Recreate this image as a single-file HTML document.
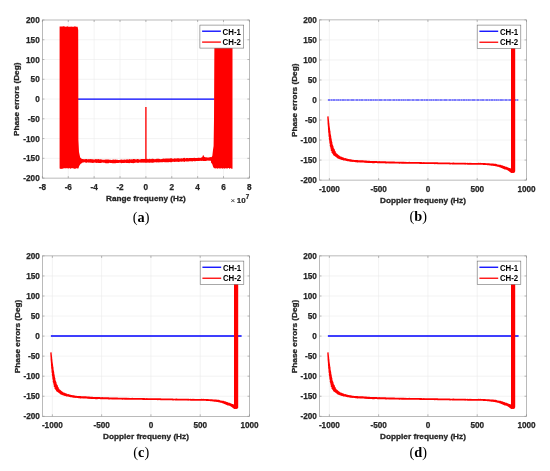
<!DOCTYPE html>
<html><head><meta charset="utf-8"><title>Phase errors</title>
<style>
html,body{margin:0;padding:0;background:#fff;}
body{width:550px;height:471px;overflow:hidden;}
svg{display:block;}
.t{font-family:"Liberation Sans",Arial,Helvetica,sans-serif;font-weight:bold;font-size:8.2px;fill:#262626;stroke:#262626;stroke-width:0.25px;}
.l{font-family:"Liberation Sans",Arial,Helvetica,sans-serif;font-weight:bold;font-size:7.8px;fill:#262626;stroke:#262626;stroke-width:0.3px;}
.g{font-family:"Liberation Sans",Arial,Helvetica,sans-serif;font-weight:bold;font-size:8.2px;fill:#000;}
.e{font-family:"Liberation Sans",Arial,Helvetica,sans-serif;font-size:8px;fill:#262626;}
.eb{font-weight:bold;stroke:#262626;stroke-width:0.2px;}
.c{font-family:"Liberation Serif","Times New Roman",serif;font-size:14.3px;fill:#000;}
</style></head><body>
<svg width="550" height="471" viewBox="0 0 550 471">
<rect width="550" height="471" fill="#fff"/>
<rect x="42.4" y="20" width="207" height="158.1" fill="#fff"/>
<line x1="68.28" y1="20" x2="68.28" y2="178.1" stroke="#ebebeb" stroke-width="0.6"/>
<line x1="94.15" y1="20" x2="94.15" y2="178.1" stroke="#ebebeb" stroke-width="0.6"/>
<line x1="120.03" y1="20" x2="120.03" y2="178.1" stroke="#ebebeb" stroke-width="0.6"/>
<line x1="145.9" y1="20" x2="145.9" y2="178.1" stroke="#ebebeb" stroke-width="0.6"/>
<line x1="171.78" y1="20" x2="171.78" y2="178.1" stroke="#ebebeb" stroke-width="0.6"/>
<line x1="197.65" y1="20" x2="197.65" y2="178.1" stroke="#ebebeb" stroke-width="0.6"/>
<line x1="223.53" y1="20" x2="223.53" y2="178.1" stroke="#ebebeb" stroke-width="0.6"/>
<line x1="42.4" y1="39.76" x2="249.4" y2="39.76" stroke="#ebebeb" stroke-width="0.6"/>
<line x1="42.4" y1="59.52" x2="249.4" y2="59.52" stroke="#ebebeb" stroke-width="0.6"/>
<line x1="42.4" y1="79.29" x2="249.4" y2="79.29" stroke="#ebebeb" stroke-width="0.6"/>
<line x1="42.4" y1="99.05" x2="249.4" y2="99.05" stroke="#ebebeb" stroke-width="0.6"/>
<line x1="42.4" y1="118.81" x2="249.4" y2="118.81" stroke="#ebebeb" stroke-width="0.6"/>
<line x1="42.4" y1="138.57" x2="249.4" y2="138.57" stroke="#ebebeb" stroke-width="0.6"/>
<line x1="42.4" y1="158.34" x2="249.4" y2="158.34" stroke="#ebebeb" stroke-width="0.6"/>
<line x1="78" y1="99.05" x2="214.5" y2="99.05" stroke="#0000ff" stroke-width="1.3"/>
<polygon fill="#ff0000" points="77,159.2 77.99,159.19 78.97,159.21 79.96,159.2 80.94,158.95 81.93,159.12 82.91,159.06 83.9,159.15 84.89,159.37 85.87,159.06 86.86,159.09 87.84,159.48 88.83,159.09 89.81,159.14 90.8,158.98 91.79,159.16 92.77,159.2 93.76,159.45 94.74,159.43 95.73,159.12 96.71,159.21 97.7,159.27 98.69,159.06 99.67,159.47 100.66,159.18 101.64,159.58 102.63,159.69 103.61,159.81 104.6,159.76 105.59,159.51 106.57,159.39 107.56,159.48 108.54,159.51 109.53,159.87 110.51,159.74 111.5,159.91 112.49,159.67 113.47,159.55 114.46,159.72 115.44,159.39 116.43,159.73 117.41,159.74 118.4,159.89 119.39,160.01 120.37,159.85 121.36,159.41 122.34,159.77 123.33,159.64 124.31,159.59 125.3,159.79 126.29,159.5 127.27,159.3 128.26,159.64 129.24,159.12 130.23,159.6 131.21,159.28 132.2,159.57 133.19,159.03 134.17,159.12 135.16,159.36 136.14,159.59 137.13,159.03 138.11,158.88 139.1,159.39 140.09,159.45 141.07,158.89 142.06,158.99 143.04,158.93 144.03,159.02 145.01,159.04 146,158.92 146.99,158.8 147.97,159.36 148.96,159.04 149.94,158.77 150.93,159.14 151.91,158.75 152.9,158.82 153.89,158.92 154.87,159.13 155.86,159.06 156.84,158.77 157.83,158.7 158.81,158.67 159.8,159 160.79,159.13 161.77,158.95 162.76,158.8 163.74,158.62 164.73,158.78 165.71,158.57 166.7,158.41 167.69,158.59 168.67,158.55 169.66,158.45 170.64,158.24 171.63,158.35 172.61,158.8 173.6,158.76 174.59,158.28 175.57,158.5 176.56,158.42 177.54,158.33 178.53,158.17 179.51,158.48 180.5,158.45 181.49,158.31 182.47,158.41 183.46,158.12 184.44,157.83 185.43,158.38 186.41,158.04 187.4,157.94 188.39,158.25 189.37,157.88 190.36,158.08 191.34,157.96 192.33,157.89 193.31,157.92 194.3,157.87 195.29,158.01 196.27,157.99 197.26,158.01 198.24,157.66 199.23,157.74 200.21,157.9 201.2,157.43 202.19,157.17 203.17,154.85 204.16,156.75 205.14,157.15 206.13,157.14 207.11,157.42 208.1,157.6 209.09,157.47 210.07,156.92 211.06,157.35 212.04,157.26 213.03,157.03 214.01,157.11 215,157.14 215,160.24 214.01,160.68 213.03,160.6 212.04,160.57 211.06,160.48 210.07,160.89 209.09,160.49 208.1,160.67 207.11,160.62 206.13,161.03 205.14,160.92 204.16,161.07 203.17,161.1 202.19,160.86 201.2,161.04 200.21,160.71 199.23,161.06 198.24,160.99 197.26,160.92 196.27,161 195.29,161.15 194.3,161.34 193.31,161.11 192.33,161.6 191.34,161.24 190.36,161.2 189.37,161.37 188.39,161.51 187.4,161.59 186.41,161.57 185.43,161.28 184.44,161.98 183.46,161.58 182.47,161.61 181.49,161.84 180.5,161.62 179.51,161.63 178.53,161.91 177.54,161.68 176.56,161.85 175.57,161.79 174.59,162.12 173.6,161.64 172.61,161.8 171.63,162.14 170.64,162.14 169.66,162.11 168.67,162.19 167.69,162.17 166.7,162.24 165.71,162.31 164.73,162.15 163.74,162.12 162.76,162.27 161.77,162.19 160.79,162.24 159.8,162.3 158.81,162.53 157.83,162.37 156.84,162.55 155.86,162.18 154.87,162.36 153.89,162.52 152.9,162.77 151.91,162.71 150.93,162.38 149.94,162.69 148.96,162.77 147.97,162.5 146.99,162.66 146,162.75 145.01,162.81 144.03,162.62 143.04,162.78 142.06,162.58 141.07,162.83 140.09,162.58 139.1,162.56 138.11,163.06 137.13,162.82 136.14,162.49 135.16,162.66 134.17,162.88 133.19,163.15 132.2,162.89 131.21,163.1 130.23,162.71 129.24,163.22 128.26,162.99 127.27,163.08 126.29,163.01 125.3,162.78 124.31,162.91 123.33,163.04 122.34,162.93 121.36,163.15 120.37,162.78 119.39,162.81 118.4,162.94 117.41,163.05 116.43,162.96 115.44,163.34 114.46,163.32 113.47,163.24 112.49,163.19 111.5,162.97 110.51,163 109.53,162.84 108.54,163.13 107.56,163.18 106.57,163.14 105.59,163.16 104.6,162.78 103.61,162.87 102.63,162.62 101.64,162.87 100.66,163.05 99.67,163 98.69,162.99 97.7,162.85 96.71,163.02 95.73,162.87 94.74,162.45 93.76,162.63 92.77,162.95 91.79,162.82 90.8,162.71 89.81,162.62 88.83,162.64 87.84,162.32 86.86,162.66 85.87,162.74 84.89,162.34 83.9,162.27 82.91,162.71 81.93,162.53 80.94,162.36 79.96,162.35 78.97,162.15 77.99,162.25 77,162.44"/>
<line x1="145.9" y1="106.95" x2="145.9" y2="161.1" stroke="#ff0000" stroke-width="1.35"/>
<polygon fill="#ff0000" points="59.6,26.47 60.32,26.55 61.04,26.55 61.76,26.38 62.48,26.48 63.2,26.22 63.92,26.36 64.64,26.57 65.36,26.66 66.08,26.82 66.8,26.43 67.52,26.3 68.24,26.65 68.96,26.78 69.68,26.64 70.4,26.77 71.12,26.57 71.84,26.78 72.56,26.78 73.28,26.82 74,26.69 74.72,26.22 75.44,26.45 76.16,26.79 76.88,26.64 77.6,26.68 78.2,30 78.4,140 79,152 80.2,157.5 82,159 82,163 80.5,164 79.2,166 78.4,168.5 77.6,168.41 76.88,168.27 76.16,168.34 75.44,168.8 74.72,168.77 74,168.67 73.28,168.22 72.56,168.32 71.84,168.1 71.12,168.4 70.4,168.76 69.68,168.17 68.96,168.01 68.24,168.86 67.52,168.18 66.8,167.92 66.08,168.51 65.36,168.18 64.64,168.15 63.92,168.31 63.2,168.6 62.48,168.86 61.76,168.81 61.04,168.9 60.32,168.7 59.6,168.43"/>
<polygon fill="#ff0000" points="214.6,26.2 215.32,26.72 216.03,26.57 216.75,26.25 217.46,26.38 218.18,26.39 218.9,26.34 219.61,26.88 220.33,26.47 221.04,26.68 221.76,26.63 222.48,26.25 223.19,26.38 223.91,26.41 224.62,26.21 225.34,26.39 226.06,26.68 226.77,26.4 227.49,26.53 228.2,26.28 228.92,26.34 229.64,26.86 230.35,26.52 231.07,26.88 231.78,26.39 232.5,26.86 232.5,168.69 231.78,168.69 231.07,168.45 230.35,168.08 229.64,168.88 228.92,167.92 228.2,168.01 227.49,168.43 226.77,168.38 226.06,168.22 225.34,168.23 224.62,168.84 223.91,168.33 223.19,168.16 222.48,168.75 221.76,168.26 221.04,168.13 220.33,168.42 219.61,168.41 218.9,168.16 218.18,168.17 217.46,168.83 216.75,168.16 216.03,168.24 215.32,168.4 214.6,168.1 214.2,168.4 213.2,167 212.2,164 211,162.6 211,158 212.3,156 213,150 213.6,146 214,120 214.3,60 214.5,28"/>
<rect x="42.4" y="20" width="207" height="158.1" fill="none" stroke="#8c8c8c" stroke-width="0.6"/>
<path d="M42.4 178.1v-2M42.4 20v2" stroke="#8c8c8c" stroke-width="0.6"/>
<path d="M68.28 178.1v-2M68.28 20v2" stroke="#8c8c8c" stroke-width="0.6"/>
<path d="M94.15 178.1v-2M94.15 20v2" stroke="#8c8c8c" stroke-width="0.6"/>
<path d="M120.03 178.1v-2M120.03 20v2" stroke="#8c8c8c" stroke-width="0.6"/>
<path d="M145.9 178.1v-2M145.9 20v2" stroke="#8c8c8c" stroke-width="0.6"/>
<path d="M171.78 178.1v-2M171.78 20v2" stroke="#8c8c8c" stroke-width="0.6"/>
<path d="M197.65 178.1v-2M197.65 20v2" stroke="#8c8c8c" stroke-width="0.6"/>
<path d="M223.53 178.1v-2M223.53 20v2" stroke="#8c8c8c" stroke-width="0.6"/>
<path d="M249.4 178.1v-2M249.4 20v2" stroke="#8c8c8c" stroke-width="0.6"/>
<path d="M42.4 20h2M249.4 20h-2" stroke="#8c8c8c" stroke-width="0.6"/>
<path d="M42.4 39.76h2M249.4 39.76h-2" stroke="#8c8c8c" stroke-width="0.6"/>
<path d="M42.4 59.52h2M249.4 59.52h-2" stroke="#8c8c8c" stroke-width="0.6"/>
<path d="M42.4 79.29h2M249.4 79.29h-2" stroke="#8c8c8c" stroke-width="0.6"/>
<path d="M42.4 99.05h2M249.4 99.05h-2" stroke="#8c8c8c" stroke-width="0.6"/>
<path d="M42.4 118.81h2M249.4 118.81h-2" stroke="#8c8c8c" stroke-width="0.6"/>
<path d="M42.4 138.57h2M249.4 138.57h-2" stroke="#8c8c8c" stroke-width="0.6"/>
<path d="M42.4 158.34h2M249.4 158.34h-2" stroke="#8c8c8c" stroke-width="0.6"/>
<path d="M42.4 178.1h2M249.4 178.1h-2" stroke="#8c8c8c" stroke-width="0.6"/>
<rect x="199.9" y="25.1" width="43.8" height="23" fill="#fff" stroke="#6e6e6e" stroke-width="0.6"/>
<line x1="202.1" y1="31.2" x2="220.9" y2="31.2" stroke="#0000ff" stroke-width="1.3"/>
<line x1="202.1" y1="42.1" x2="220.9" y2="42.1" stroke="#ff0000" stroke-width="1.3"/>
<text transform="translate(222.6 34.7) scale(0.96 1)" text-anchor="start" class="g">CH-1</text>
<text transform="translate(222.6 45.2) scale(0.96 1)" text-anchor="start" class="g">CH-2</text>
<text transform="translate(42.4 189.9) scale(1.0 1)" text-anchor="middle" class="t">-8</text>
<text transform="translate(68.28 189.9) scale(1.0 1)" text-anchor="middle" class="t">-6</text>
<text transform="translate(94.15 189.9) scale(1.0 1)" text-anchor="middle" class="t">-4</text>
<text transform="translate(120.03 189.9) scale(1.0 1)" text-anchor="middle" class="t">-2</text>
<text transform="translate(145.9 189.9) scale(1.0 1)" text-anchor="middle" class="t">0</text>
<text transform="translate(171.78 189.9) scale(1.0 1)" text-anchor="middle" class="t">2</text>
<text transform="translate(197.65 189.9) scale(1.0 1)" text-anchor="middle" class="t">4</text>
<text transform="translate(223.53 189.9) scale(1.0 1)" text-anchor="middle" class="t">6</text>
<text transform="translate(249.4 189.9) scale(1.0 1)" text-anchor="middle" class="t">8</text>
<text transform="translate(39.7 23) scale(1.0 1)" text-anchor="end" class="t">200</text>
<text transform="translate(39.7 42.76) scale(1.0 1)" text-anchor="end" class="t">150</text>
<text transform="translate(39.7 62.52) scale(1.0 1)" text-anchor="end" class="t">100</text>
<text transform="translate(39.7 82.29) scale(1.0 1)" text-anchor="end" class="t">50</text>
<text transform="translate(39.7 102.05) scale(1.0 1)" text-anchor="end" class="t">0</text>
<text transform="translate(39.7 121.81) scale(1.0 1)" text-anchor="end" class="t">-50</text>
<text transform="translate(39.7 141.57) scale(1.0 1)" text-anchor="end" class="t">-100</text>
<text transform="translate(39.7 161.34) scale(1.0 1)" text-anchor="end" class="t">-150</text>
<text transform="translate(39.7 181.1) scale(1.0 1)" text-anchor="end" class="t">-200</text>
<text transform="translate(145.9 200.5) scale(1.055 1)" text-anchor="middle" class="l">Range frequeny (Hz)</text>
<text transform="translate(19.4 99.35) rotate(-90) scale(1.055 1)" text-anchor="middle" class="l">Phase errors (Deg)</text>
<text x="141.1" y="221.9" text-anchor="middle" class="c">(<tspan font-weight="bold">a</tspan>)</text>
<text x="249.2" y="202.7" text-anchor="end" class="e">×<tspan dx="1.6" class="eb">10</tspan><tspan dy="-3.6" class="eb" style="font-size:6.3px">7</tspan></text>
<rect x="319.5" y="19.9" width="207" height="160.2" fill="#fff"/>
<line x1="329.36" y1="19.9" x2="329.36" y2="180.1" stroke="#ebebeb" stroke-width="0.6"/>
<line x1="378.64" y1="19.9" x2="378.64" y2="180.1" stroke="#ebebeb" stroke-width="0.6"/>
<line x1="427.93" y1="19.9" x2="427.93" y2="180.1" stroke="#ebebeb" stroke-width="0.6"/>
<line x1="477.21" y1="19.9" x2="477.21" y2="180.1" stroke="#ebebeb" stroke-width="0.6"/>
<line x1="319.5" y1="39.92" x2="526.5" y2="39.92" stroke="#ebebeb" stroke-width="0.6"/>
<line x1="319.5" y1="59.95" x2="526.5" y2="59.95" stroke="#ebebeb" stroke-width="0.6"/>
<line x1="319.5" y1="79.97" x2="526.5" y2="79.97" stroke="#ebebeb" stroke-width="0.6"/>
<line x1="319.5" y1="100" x2="526.5" y2="100" stroke="#ebebeb" stroke-width="0.6"/>
<line x1="319.5" y1="120.03" x2="526.5" y2="120.03" stroke="#ebebeb" stroke-width="0.6"/>
<line x1="319.5" y1="140.05" x2="526.5" y2="140.05" stroke="#ebebeb" stroke-width="0.6"/>
<line x1="319.5" y1="160.07" x2="526.5" y2="160.07" stroke="#ebebeb" stroke-width="0.6"/>
<line x1="327.88" y1="100" x2="518.61" y2="100" stroke="#0000ff" stroke-width="1.0" stroke-dasharray="2.5 0.3 1.4 0.25 3.2 0.3 1.1 0.25"/>
<polygon fill="#ff0000" points="327.23,116.45 327.28,117.35 327.33,118.26 327.38,119.16 327.41,120.06 327.49,120.96 327.54,121.86 327.55,122.77 327.57,123.58 327.66,124.38 327.77,125.18 327.78,125.99 327.88,126.78 327.96,127.58 327.95,128.39 327.99,129.21 328.08,130.03 328.17,130.83 328.13,131.65 328.24,132.45 328.44,133.23 328.53,134.03 328.48,134.85 328.54,135.67 328.59,136.59 328.99,137.45 328.79,138.4 328.85,139.31 329.28,140.17 329.11,141.11 329.49,142.01 329.25,142.93 329.75,143.66 329.89,144.46 329.66,145.34 329.9,146.13 330.23,146.89 330.39,147.69 330.56,148.63 330.83,149.54 330.63,150.49 331.31,151.09 331.64,151.82 331.47,152.76 332.38,153.55 333.02,154.42 333.27,155.28 334.08,155.67 334.89,156.34 335.81,157.04 336.61,157.6 337.27,158.35 338.36,158.76 339.37,158.94 340.02,159.51 340.9,159.51 341.6,159.97 342.52,160.07 343.32,160.52 344.14,160.53 344.96,160.58 345.73,160.83 346.56,161.03 347.52,161.3 348.5,161.34 349.46,161.47 350.43,161.78 351.33,161.87 352.17,162.03 353.04,161.85 353.87,162.04 354.73,162.04 355.56,162.22 356.41,162.24 357.24,162.47 358.11,162.47 358.94,162.37 359.75,162.38 360.54,162.59 361.35,162.46 362.14,162.62 362.94,162.62 363.75,162.6 364.54,162.8 365.34,162.84 366.14,162.89 366.94,162.83 367.74,162.99 368.54,162.92 369.34,163.06 370.14,163.05 370.96,163.08 371.79,162.99 372.59,163.19 373.4,163.15 374.21,163.16 375.02,163.12 375.83,163.06 376.64,163.06 377.45,163.16 378.26,163.22 379.07,163.22 379.88,163.16 380.68,163.19 381.48,163.19 382.29,163.33 383.09,163.27 383.9,163.27 384.7,163.26 385.5,163.39 386.31,163.42 387.11,163.38 387.92,163.32 388.72,163.46 389.52,163.46 390.33,163.4 391.13,163.45 391.94,163.43 392.74,163.51 393.54,163.48 394.35,163.6 395.15,163.48 395.95,163.62 396.76,163.61 397.56,163.57 398.37,163.54 399.17,163.63 399.98,163.7 400.82,163.61 401.65,163.69 402.49,163.69 403.32,163.73 404.15,163.72 404.99,163.7 405.82,163.64 406.65,163.75 407.49,163.69 408.32,163.76 409.15,163.75 409.99,163.73 410.82,163.81 411.65,163.82 412.49,163.73 413.32,163.8 414.15,163.77 414.99,163.84 415.79,163.86 416.6,163.84 417.4,163.86 418.21,163.86 419.02,163.83 419.82,163.93 420.63,163.89 421.44,163.88 422.24,163.95 423.05,163.88 423.86,163.94 424.66,163.95 425.47,164 426.28,164.01 427.08,163.97 427.89,163.96 428.7,164.02 429.5,164.07 430.31,164.09 431.11,164.11 431.92,164.03 432.73,164.06 433.53,164.11 434.34,164.15 435.15,164.1 435.95,164.17 436.76,164.11 437.57,164.21 438.37,164.18 439.18,164.19 439.99,164.21 440.79,164.26 441.61,164.21 442.42,164.24 443.23,164.27 444.04,164.27 444.85,164.33 445.66,164.26 446.47,164.26 447.28,164.35 448.09,164.33 448.9,164.31 449.71,164.41 450.53,164.4 451.34,164.35 452.15,164.42 452.96,164.4 453.77,164.38 454.58,164.39 455.39,164.42 456.2,164.47 457.01,164.47 457.82,164.5 458.63,164.47 459.44,164.54 460.25,164.58 461.07,164.59 461.88,164.59 462.69,164.62 463.5,164.57 464.31,164.57 465.12,164.66 465.93,164.6 466.74,164.61 467.55,164.69 468.36,164.7 469.17,164.67 469.99,164.64 470.84,164.73 471.69,164.77 472.53,164.73 473.38,164.74 474.23,164.71 475.07,164.71 475.92,164.78 476.77,164.79 477.61,164.75 478.46,164.85 479.31,164.87 480.15,164.76 481,164.83 481.85,164.82 482.67,164.85 483.44,164.92 484.24,165 485.04,164.97 485.84,165.12 486.64,165.08 487.44,165.19 488.23,165.32 489.01,165.34 489.79,165.43 490.59,165.52 491.37,165.71 492.19,165.66 492.98,165.86 493.77,165.98 494.57,166.11 495.29,166.15 495.99,166.37 496.77,166.59 497.58,166.7 498.39,166.82 499.13,167.23 499.94,167.32 500.69,167.68 501.4,167.88 502.18,168.17 502.95,168.7 503.83,168.94 504.62,169.41 505.52,169.62 506.37,169.79 507.12,170.06 507.82,170.61 508.61,170.95 509.3,171.5 509.91,172.12 510.59,172.58 511.38,172.93 512.29,173.06 513.96,169.85 513.05,169.72 512.44,169.03 511.58,168.7 510.73,168.4 510.03,167.88 509.04,167.96 508.27,167.59 507.46,167.15 506.6,166.7 505.63,166.72 504.88,166.14 504,165.9 503.1,165.71 502.19,165.35 501.31,165.23 500.57,164.85 499.75,164.77 498.94,164.68 498.15,164.46 497.33,164.39 496.56,164.12 495.71,163.83 494.83,163.72 494.02,163.76 493.22,163.6 492.43,163.5 491.62,163.46 490.81,163.44 490.01,163.39 489.19,163.23 488.37,163.2 487.56,163.29 486.76,163.22 485.96,163.14 485.16,163.09 484.36,162.98 483.56,163.07 482.73,162.96 481.86,162.95 481.01,162.9 480.17,162.87 479.32,162.99 478.47,162.86 477.63,162.97 476.78,162.98 475.93,162.92 475.09,162.98 474.24,162.97 473.39,162.89 472.55,162.88 471.7,162.96 470.85,162.86 470.01,162.94 469.2,162.87 468.39,162.92 467.58,162.87 466.77,162.9 465.96,162.81 465.15,162.87 464.34,162.75 463.53,162.75 462.72,162.8 461.91,162.73 461.1,162.79 460.29,162.73 459.47,162.72 458.66,162.7 457.85,162.74 457.04,162.7 456.23,162.68 455.42,162.7 454.61,162.65 453.8,162.61 452.99,162.61 452.18,162.63 451.37,162.63 450.55,162.64 449.74,162.61 448.93,162.54 448.12,162.56 447.31,162.48 446.5,162.52 445.69,162.5 444.88,162.44 444.07,162.48 443.26,162.51 442.45,162.45 441.64,162.4 440.83,162.42 440.01,162.46 439.21,162.39 438.4,162.41 437.6,162.36 436.79,162.31 435.98,162.29 435.18,162.34 434.37,162.31 433.56,162.3 432.76,162.26 431.95,162.27 431.14,162.31 430.34,162.25 429.53,162.21 428.72,162.2 427.92,162.25 427.11,162.16 426.3,162.22 425.5,162.22 424.69,162.21 423.89,162.11 423.08,162.14 422.27,162.14 421.47,162.06 420.66,162.06 419.85,162.03 419.05,162.02 418.24,162.03 417.43,162.01 416.63,162.06 415.82,162.02 415.01,161.97 414.18,161.98 413.35,161.93 412.51,161.97 411.68,161.92 410.84,161.99 410.01,161.88 409.18,161.87 408.35,161.89 407.51,161.9 406.68,161.91 405.85,161.85 405.01,161.88 404.18,161.86 403.35,161.74 402.51,161.77 401.68,161.78 400.85,161.83 400.02,161.79 399.22,161.8 398.41,161.76 397.61,161.64 396.81,161.65 396,161.71 395.2,161.69 394.4,161.6 393.59,161.52 392.79,161.55 391.98,161.54 391.18,161.54 390.37,161.54 389.57,161.38 388.77,161.38 387.96,161.42 387.16,161.42 386.36,161.39 385.55,161.28 384.75,161.34 383.95,161.27 383.14,161.21 382.34,161.23 381.53,161.3 380.73,161.18 379.92,161.28 379.12,161.09 378.3,161.15 377.49,161.17 376.69,161.08 375.88,161.03 375.07,160.98 374.26,161.01 373.45,161.03 372.64,160.9 371.83,160.93 371.04,160.91 370.26,160.92 369.46,160.83 368.66,160.73 367.86,160.66 367.06,160.66 366.26,160.56 365.46,160.56 364.66,160.47 363.86,160.5 363.07,160.35 362.26,160.36 361.46,160.34 360.67,160.21 359.87,160.17 359.05,160.34 358.28,160.16 357.46,160.06 356.62,159.92 355.76,160.03 354.92,159.88 354.07,159.88 353.23,159.74 352.39,159.68 351.55,159.57 350.78,159.34 349.85,159.33 348.93,159 347.96,158.94 347.08,158.59 346.35,158.42 345.6,158.11 344.75,158.18 344.02,157.78 343.37,157.46 342.71,157.15 341.85,157.11 341.2,156.52 340.34,156.48 339.91,155.92 339.19,155.55 338.42,154.96 337.71,154.28 337.12,153.82 336.56,153.58 336.19,152.82 335.66,152.2 335.8,151.5 335.38,151.2 334.88,150.53 334.86,149.67 334.47,148.95 333.81,148.35 333.62,147.72 333.58,147.05 333.42,146.24 333.06,145.49 332.72,144.72 332.47,143.94 332.36,143.13 332.39,142.29 332.01,141.58 331.83,140.72 331.81,139.8 331.57,138.92 331.43,138.02 331.19,137.14 331.23,136.21 330.93,135.35 330.82,134.56 330.61,133.77 330.54,132.97 330.53,132.16 330.47,131.35 330.2,130.58 330.15,129.77 330.03,128.99 329.97,128.2 329.81,127.41 329.68,126.62 329.56,125.82 329.47,125.02 329.44,124.22 329.38,123.42 329.2,122.63 329.16,121.73 329.04,120.84 328.96,119.94 328.86,119.04 328.76,118.14 328.67,117.24 328.57,116.35"/>
<circle cx="513.1" cy="171.2" r="1.9" fill="#ff0000"/>
<rect x="511" y="28" width="4.2" height="143.4" fill="#ff0000"/>
<rect x="319.5" y="19.9" width="207" height="160.2" fill="none" stroke="#8c8c8c" stroke-width="0.6"/>
<path d="M329.36 180.1v-2M329.36 19.9v2" stroke="#8c8c8c" stroke-width="0.6"/>
<path d="M378.64 180.1v-2M378.64 19.9v2" stroke="#8c8c8c" stroke-width="0.6"/>
<path d="M427.93 180.1v-2M427.93 19.9v2" stroke="#8c8c8c" stroke-width="0.6"/>
<path d="M477.21 180.1v-2M477.21 19.9v2" stroke="#8c8c8c" stroke-width="0.6"/>
<path d="M526.5 180.1v-2M526.5 19.9v2" stroke="#8c8c8c" stroke-width="0.6"/>
<path d="M319.5 19.9h2M526.5 19.9h-2" stroke="#8c8c8c" stroke-width="0.6"/>
<path d="M319.5 39.92h2M526.5 39.92h-2" stroke="#8c8c8c" stroke-width="0.6"/>
<path d="M319.5 59.95h2M526.5 59.95h-2" stroke="#8c8c8c" stroke-width="0.6"/>
<path d="M319.5 79.97h2M526.5 79.97h-2" stroke="#8c8c8c" stroke-width="0.6"/>
<path d="M319.5 100h2M526.5 100h-2" stroke="#8c8c8c" stroke-width="0.6"/>
<path d="M319.5 120.03h2M526.5 120.03h-2" stroke="#8c8c8c" stroke-width="0.6"/>
<path d="M319.5 140.05h2M526.5 140.05h-2" stroke="#8c8c8c" stroke-width="0.6"/>
<path d="M319.5 160.07h2M526.5 160.07h-2" stroke="#8c8c8c" stroke-width="0.6"/>
<path d="M319.5 180.1h2M526.5 180.1h-2" stroke="#8c8c8c" stroke-width="0.6"/>
<rect x="477.2" y="25.1" width="43.6" height="23.2" fill="#fff" stroke="#6e6e6e" stroke-width="0.6"/>
<line x1="479.4" y1="31.25" x2="498.2" y2="31.25" stroke="#0000ff" stroke-width="1.3"/>
<line x1="479.4" y1="42.24" x2="498.2" y2="42.24" stroke="#ff0000" stroke-width="1.3"/>
<text transform="translate(499.9 34.75) scale(0.96 1)" text-anchor="start" class="g">CH-1</text>
<text transform="translate(499.9 45.34) scale(0.96 1)" text-anchor="start" class="g">CH-2</text>
<text transform="translate(329.36 191.5) scale(1.0 1)" text-anchor="middle" class="t">-1000</text>
<text transform="translate(378.64 191.5) scale(1.0 1)" text-anchor="middle" class="t">-500</text>
<text transform="translate(427.93 191.5) scale(1.0 1)" text-anchor="middle" class="t">0</text>
<text transform="translate(477.21 191.5) scale(1.0 1)" text-anchor="middle" class="t">500</text>
<text transform="translate(526.5 191.5) scale(1.0 1)" text-anchor="middle" class="t">1000</text>
<text transform="translate(316.8 22.9) scale(1.0 1)" text-anchor="end" class="t">200</text>
<text transform="translate(316.8 42.92) scale(1.0 1)" text-anchor="end" class="t">150</text>
<text transform="translate(316.8 62.95) scale(1.0 1)" text-anchor="end" class="t">100</text>
<text transform="translate(316.8 82.97) scale(1.0 1)" text-anchor="end" class="t">50</text>
<text transform="translate(316.8 103) scale(1.0 1)" text-anchor="end" class="t">0</text>
<text transform="translate(316.8 123.03) scale(1.0 1)" text-anchor="end" class="t">-50</text>
<text transform="translate(316.8 143.05) scale(1.0 1)" text-anchor="end" class="t">-100</text>
<text transform="translate(316.8 163.07) scale(1.0 1)" text-anchor="end" class="t">-150</text>
<text transform="translate(316.8 183.1) scale(1.0 1)" text-anchor="end" class="t">-200</text>
<text transform="translate(423 202.5) scale(1.055 1)" text-anchor="middle" class="l">Doppler frequeny (Hz)</text>
<text transform="translate(296.5 100.3) rotate(-90) scale(1.055 1)" text-anchor="middle" class="l">Phase errors (Deg)</text>
<text x="418.2" y="220.8" text-anchor="middle" class="c">(<tspan font-weight="bold">b</tspan>)</text>
<rect x="42.5" y="255.9" width="207" height="160.4" fill="#fff"/>
<line x1="52.36" y1="255.9" x2="52.36" y2="416.3" stroke="#ebebeb" stroke-width="0.6"/>
<line x1="101.64" y1="255.9" x2="101.64" y2="416.3" stroke="#ebebeb" stroke-width="0.6"/>
<line x1="150.93" y1="255.9" x2="150.93" y2="416.3" stroke="#ebebeb" stroke-width="0.6"/>
<line x1="200.21" y1="255.9" x2="200.21" y2="416.3" stroke="#ebebeb" stroke-width="0.6"/>
<line x1="42.5" y1="275.95" x2="249.5" y2="275.95" stroke="#ebebeb" stroke-width="0.6"/>
<line x1="42.5" y1="296" x2="249.5" y2="296" stroke="#ebebeb" stroke-width="0.6"/>
<line x1="42.5" y1="316.05" x2="249.5" y2="316.05" stroke="#ebebeb" stroke-width="0.6"/>
<line x1="42.5" y1="336.1" x2="249.5" y2="336.1" stroke="#ebebeb" stroke-width="0.6"/>
<line x1="42.5" y1="356.15" x2="249.5" y2="356.15" stroke="#ebebeb" stroke-width="0.6"/>
<line x1="42.5" y1="376.2" x2="249.5" y2="376.2" stroke="#ebebeb" stroke-width="0.6"/>
<line x1="42.5" y1="396.25" x2="249.5" y2="396.25" stroke="#ebebeb" stroke-width="0.6"/>
<line x1="50.88" y1="336.1" x2="241.61" y2="336.1" stroke="#0000ff" stroke-width="1.5"/>
<polygon fill="#ff0000" points="50.23,352.45 50.28,353.35 50.33,354.26 50.38,355.16 50.41,356.06 50.49,356.96 50.54,357.86 50.55,358.77 50.57,359.58 50.66,360.38 50.77,361.18 50.78,361.99 50.88,362.78 50.96,363.58 50.95,364.39 50.99,365.21 51.08,366.03 51.17,366.83 51.13,367.65 51.24,368.45 51.44,369.23 51.53,370.03 51.48,370.85 51.54,371.67 51.59,372.59 51.99,373.45 51.79,374.4 51.85,375.31 52.28,376.17 52.11,377.11 52.49,378.01 52.25,378.93 52.75,379.66 52.89,380.46 52.66,381.34 52.9,382.13 53.23,382.89 53.39,383.69 53.56,384.63 53.83,385.54 53.63,386.49 54.31,387.09 54.64,387.82 54.47,388.76 55.38,389.55 56.02,390.42 56.27,391.28 57.08,391.67 57.89,392.34 58.81,393.04 59.61,393.6 60.27,394.35 61.36,394.76 62.37,394.94 63.02,395.51 63.9,395.51 64.6,395.97 65.52,396.07 66.32,396.52 67.14,396.53 67.96,396.58 68.73,396.83 69.56,397.03 70.52,397.3 71.5,397.34 72.46,397.47 73.43,397.78 74.33,397.87 75.17,398.03 76.04,397.85 76.87,398.04 77.73,398.04 78.56,398.22 79.41,398.24 80.24,398.47 81.11,398.47 81.94,398.37 82.75,398.38 83.54,398.59 84.35,398.46 85.14,398.62 85.94,398.62 86.75,398.6 87.54,398.8 88.34,398.84 89.14,398.89 89.94,398.83 90.74,398.99 91.54,398.92 92.34,399.06 93.14,399.05 93.96,399.08 94.79,398.99 95.59,399.19 96.4,399.15 97.21,399.16 98.02,399.12 98.83,399.06 99.64,399.06 100.45,399.16 101.26,399.22 102.07,399.22 102.88,399.16 103.68,399.19 104.48,399.19 105.29,399.33 106.09,399.27 106.9,399.27 107.7,399.26 108.5,399.39 109.31,399.42 110.11,399.38 110.92,399.32 111.72,399.46 112.52,399.46 113.33,399.4 114.13,399.45 114.94,399.43 115.74,399.51 116.54,399.48 117.35,399.6 118.15,399.48 118.95,399.62 119.76,399.61 120.56,399.57 121.37,399.54 122.17,399.63 122.98,399.7 123.82,399.61 124.65,399.69 125.49,399.69 126.32,399.73 127.15,399.72 127.99,399.7 128.82,399.64 129.65,399.75 130.49,399.69 131.32,399.76 132.15,399.75 132.99,399.73 133.82,399.81 134.65,399.82 135.49,399.73 136.32,399.8 137.15,399.77 137.99,399.84 138.79,399.86 139.6,399.84 140.4,399.86 141.21,399.86 142.02,399.83 142.82,399.93 143.63,399.89 144.44,399.88 145.24,399.95 146.05,399.88 146.86,399.94 147.66,399.95 148.47,400 149.28,400.01 150.08,399.97 150.89,399.96 151.7,400.02 152.5,400.07 153.31,400.09 154.11,400.11 154.92,400.03 155.73,400.06 156.53,400.11 157.34,400.15 158.15,400.1 158.95,400.17 159.76,400.11 160.57,400.21 161.37,400.18 162.18,400.19 162.99,400.21 163.79,400.26 164.61,400.21 165.42,400.24 166.23,400.27 167.04,400.27 167.85,400.33 168.66,400.26 169.47,400.26 170.28,400.35 171.09,400.33 171.9,400.31 172.71,400.41 173.53,400.4 174.34,400.35 175.15,400.42 175.96,400.4 176.77,400.38 177.58,400.39 178.39,400.42 179.2,400.47 180.01,400.47 180.82,400.5 181.63,400.47 182.44,400.54 183.25,400.58 184.07,400.59 184.88,400.59 185.69,400.62 186.5,400.57 187.31,400.57 188.12,400.66 188.93,400.6 189.74,400.61 190.55,400.69 191.36,400.7 192.17,400.67 192.99,400.64 193.84,400.73 194.69,400.77 195.53,400.73 196.38,400.74 197.23,400.71 198.07,400.71 198.92,400.78 199.77,400.79 200.61,400.75 201.46,400.85 202.31,400.87 203.15,400.76 204,400.83 204.85,400.82 205.67,400.85 206.44,400.92 207.24,401 208.04,400.97 208.84,401.12 209.64,401.08 210.44,401.19 211.23,401.32 212.01,401.34 212.79,401.43 213.59,401.52 214.37,401.71 215.19,401.66 215.98,401.86 216.77,401.98 217.57,402.11 218.29,402.15 218.99,402.37 219.77,402.59 220.58,402.7 221.39,402.82 222.13,403.23 222.94,403.32 223.69,403.68 224.4,403.88 225.18,404.17 225.95,404.7 226.83,404.94 227.62,405.41 228.52,405.62 229.37,405.79 230.12,406.06 230.82,406.61 231.61,406.95 232.3,407.5 232.91,408.12 233.59,408.58 234.38,408.93 235.29,409.06 236.96,405.85 236.05,405.72 235.44,405.03 234.58,404.7 233.73,404.4 233.03,403.88 232.04,403.96 231.27,403.59 230.46,403.15 229.6,402.7 228.63,402.72 227.88,402.14 227,401.9 226.1,401.71 225.19,401.35 224.31,401.23 223.57,400.85 222.75,400.77 221.94,400.68 221.15,400.46 220.33,400.39 219.56,400.12 218.71,399.83 217.83,399.72 217.02,399.76 216.22,399.6 215.43,399.5 214.62,399.46 213.81,399.44 213.01,399.39 212.19,399.23 211.37,399.2 210.56,399.29 209.76,399.22 208.96,399.14 208.16,399.09 207.36,398.98 206.56,399.07 205.73,398.96 204.86,398.95 204.01,398.9 203.17,398.87 202.32,398.99 201.47,398.86 200.63,398.97 199.78,398.98 198.93,398.92 198.09,398.98 197.24,398.97 196.39,398.89 195.55,398.88 194.7,398.96 193.85,398.86 193.01,398.94 192.2,398.87 191.39,398.92 190.58,398.87 189.77,398.9 188.96,398.81 188.15,398.87 187.34,398.75 186.53,398.75 185.72,398.8 184.91,398.73 184.1,398.79 183.29,398.73 182.47,398.72 181.66,398.7 180.85,398.74 180.04,398.7 179.23,398.68 178.42,398.7 177.61,398.65 176.8,398.61 175.99,398.61 175.18,398.63 174.37,398.63 173.55,398.64 172.74,398.61 171.93,398.54 171.12,398.56 170.31,398.48 169.5,398.52 168.69,398.5 167.88,398.44 167.07,398.48 166.26,398.51 165.45,398.45 164.64,398.4 163.83,398.42 163.01,398.46 162.21,398.39 161.4,398.41 160.6,398.36 159.79,398.31 158.98,398.29 158.18,398.34 157.37,398.31 156.56,398.3 155.76,398.26 154.95,398.27 154.14,398.31 153.34,398.25 152.53,398.21 151.72,398.2 150.92,398.25 150.11,398.16 149.3,398.22 148.5,398.22 147.69,398.21 146.89,398.11 146.08,398.14 145.27,398.14 144.47,398.06 143.66,398.06 142.85,398.03 142.05,398.02 141.24,398.03 140.43,398.01 139.63,398.06 138.82,398.02 138.01,397.97 137.18,397.98 136.35,397.93 135.51,397.97 134.68,397.92 133.84,397.99 133.01,397.88 132.18,397.87 131.35,397.89 130.51,397.9 129.68,397.91 128.85,397.85 128.01,397.88 127.18,397.86 126.35,397.74 125.51,397.77 124.68,397.78 123.85,397.83 123.02,397.79 122.22,397.8 121.41,397.76 120.61,397.64 119.81,397.65 119,397.71 118.2,397.69 117.4,397.6 116.59,397.52 115.79,397.55 114.98,397.54 114.18,397.54 113.37,397.54 112.57,397.38 111.77,397.38 110.96,397.42 110.16,397.42 109.36,397.39 108.55,397.28 107.75,397.34 106.95,397.27 106.14,397.21 105.34,397.23 104.53,397.3 103.73,397.18 102.92,397.28 102.12,397.09 101.3,397.15 100.49,397.17 99.69,397.08 98.88,397.03 98.07,396.98 97.26,397.01 96.45,397.03 95.64,396.9 94.83,396.93 94.04,396.91 93.26,396.92 92.46,396.83 91.66,396.73 90.86,396.66 90.06,396.66 89.26,396.56 88.46,396.56 87.66,396.47 86.86,396.5 86.07,396.35 85.26,396.36 84.46,396.34 83.67,396.21 82.87,396.17 82.05,396.34 81.28,396.16 80.46,396.06 79.62,395.92 78.76,396.03 77.92,395.88 77.07,395.88 76.23,395.74 75.39,395.68 74.55,395.57 73.78,395.34 72.85,395.33 71.93,395 70.96,394.94 70.08,394.59 69.35,394.42 68.6,394.11 67.75,394.18 67.02,393.78 66.37,393.46 65.71,393.15 64.85,393.11 64.2,392.52 63.34,392.48 62.91,391.92 62.19,391.55 61.42,390.96 60.71,390.28 60.12,389.82 59.56,389.58 59.19,388.82 58.66,388.2 58.8,387.5 58.38,387.2 57.88,386.53 57.86,385.67 57.47,384.95 56.81,384.35 56.62,383.72 56.58,383.05 56.42,382.24 56.06,381.49 55.72,380.72 55.47,379.94 55.36,379.13 55.39,378.29 55.01,377.58 54.83,376.72 54.81,375.8 54.57,374.92 54.43,374.02 54.19,373.14 54.23,372.21 53.93,371.35 53.82,370.56 53.61,369.77 53.54,368.97 53.53,368.16 53.47,367.35 53.2,366.58 53.15,365.77 53.03,364.99 52.97,364.2 52.81,363.41 52.68,362.62 52.56,361.82 52.47,361.02 52.44,360.22 52.38,359.42 52.2,358.63 52.16,357.73 52.04,356.84 51.96,355.94 51.86,355.04 51.76,354.14 51.67,353.24 51.57,352.35"/>
<circle cx="236.1" cy="407.2" r="1.9" fill="#ff0000"/>
<rect x="234" y="264" width="4.2" height="143.4" fill="#ff0000"/>
<rect x="42.5" y="255.9" width="207" height="160.4" fill="none" stroke="#8c8c8c" stroke-width="0.6"/>
<path d="M52.36 416.3v-2M52.36 255.9v2" stroke="#8c8c8c" stroke-width="0.6"/>
<path d="M101.64 416.3v-2M101.64 255.9v2" stroke="#8c8c8c" stroke-width="0.6"/>
<path d="M150.93 416.3v-2M150.93 255.9v2" stroke="#8c8c8c" stroke-width="0.6"/>
<path d="M200.21 416.3v-2M200.21 255.9v2" stroke="#8c8c8c" stroke-width="0.6"/>
<path d="M249.5 416.3v-2M249.5 255.9v2" stroke="#8c8c8c" stroke-width="0.6"/>
<path d="M42.5 255.9h2M249.5 255.9h-2" stroke="#8c8c8c" stroke-width="0.6"/>
<path d="M42.5 275.95h2M249.5 275.95h-2" stroke="#8c8c8c" stroke-width="0.6"/>
<path d="M42.5 296h2M249.5 296h-2" stroke="#8c8c8c" stroke-width="0.6"/>
<path d="M42.5 316.05h2M249.5 316.05h-2" stroke="#8c8c8c" stroke-width="0.6"/>
<path d="M42.5 336.1h2M249.5 336.1h-2" stroke="#8c8c8c" stroke-width="0.6"/>
<path d="M42.5 356.15h2M249.5 356.15h-2" stroke="#8c8c8c" stroke-width="0.6"/>
<path d="M42.5 376.2h2M249.5 376.2h-2" stroke="#8c8c8c" stroke-width="0.6"/>
<path d="M42.5 396.25h2M249.5 396.25h-2" stroke="#8c8c8c" stroke-width="0.6"/>
<path d="M42.5 416.3h2M249.5 416.3h-2" stroke="#8c8c8c" stroke-width="0.6"/>
<rect x="200.2" y="261.1" width="43.6" height="23.2" fill="#fff" stroke="#6e6e6e" stroke-width="0.6"/>
<line x1="202.4" y1="267.25" x2="221.2" y2="267.25" stroke="#0000ff" stroke-width="1.3"/>
<line x1="202.4" y1="278.24" x2="221.2" y2="278.24" stroke="#ff0000" stroke-width="1.3"/>
<text transform="translate(222.9 270.75) scale(0.96 1)" text-anchor="start" class="g">CH-1</text>
<text transform="translate(222.9 281.34) scale(0.96 1)" text-anchor="start" class="g">CH-2</text>
<text transform="translate(52.36 427.7) scale(1.0 1)" text-anchor="middle" class="t">-1000</text>
<text transform="translate(101.64 427.7) scale(1.0 1)" text-anchor="middle" class="t">-500</text>
<text transform="translate(150.93 427.7) scale(1.0 1)" text-anchor="middle" class="t">0</text>
<text transform="translate(200.21 427.7) scale(1.0 1)" text-anchor="middle" class="t">500</text>
<text transform="translate(249.5 427.7) scale(1.0 1)" text-anchor="middle" class="t">1000</text>
<text transform="translate(39.8 258.9) scale(1.0 1)" text-anchor="end" class="t">200</text>
<text transform="translate(39.8 278.95) scale(1.0 1)" text-anchor="end" class="t">150</text>
<text transform="translate(39.8 299) scale(1.0 1)" text-anchor="end" class="t">100</text>
<text transform="translate(39.8 319.05) scale(1.0 1)" text-anchor="end" class="t">50</text>
<text transform="translate(39.8 339.1) scale(1.0 1)" text-anchor="end" class="t">0</text>
<text transform="translate(39.8 359.15) scale(1.0 1)" text-anchor="end" class="t">-50</text>
<text transform="translate(39.8 379.2) scale(1.0 1)" text-anchor="end" class="t">-100</text>
<text transform="translate(39.8 399.25) scale(1.0 1)" text-anchor="end" class="t">-150</text>
<text transform="translate(39.8 419.3) scale(1.0 1)" text-anchor="end" class="t">-200</text>
<text transform="translate(146 438.7) scale(1.055 1)" text-anchor="middle" class="l">Doppler frequeny (Hz)</text>
<text transform="translate(19.5 336.4) rotate(-90) scale(1.055 1)" text-anchor="middle" class="l">Phase errors (Deg)</text>
<text x="141.2" y="457" text-anchor="middle" class="c">(<tspan font-weight="bold">c</tspan>)</text>
<rect x="319.5" y="255.9" width="207" height="160.4" fill="#fff"/>
<line x1="329.36" y1="255.9" x2="329.36" y2="416.3" stroke="#ebebeb" stroke-width="0.6"/>
<line x1="378.64" y1="255.9" x2="378.64" y2="416.3" stroke="#ebebeb" stroke-width="0.6"/>
<line x1="427.93" y1="255.9" x2="427.93" y2="416.3" stroke="#ebebeb" stroke-width="0.6"/>
<line x1="477.21" y1="255.9" x2="477.21" y2="416.3" stroke="#ebebeb" stroke-width="0.6"/>
<line x1="319.5" y1="275.95" x2="526.5" y2="275.95" stroke="#ebebeb" stroke-width="0.6"/>
<line x1="319.5" y1="296" x2="526.5" y2="296" stroke="#ebebeb" stroke-width="0.6"/>
<line x1="319.5" y1="316.05" x2="526.5" y2="316.05" stroke="#ebebeb" stroke-width="0.6"/>
<line x1="319.5" y1="336.1" x2="526.5" y2="336.1" stroke="#ebebeb" stroke-width="0.6"/>
<line x1="319.5" y1="356.15" x2="526.5" y2="356.15" stroke="#ebebeb" stroke-width="0.6"/>
<line x1="319.5" y1="376.2" x2="526.5" y2="376.2" stroke="#ebebeb" stroke-width="0.6"/>
<line x1="319.5" y1="396.25" x2="526.5" y2="396.25" stroke="#ebebeb" stroke-width="0.6"/>
<line x1="327.88" y1="336.1" x2="518.61" y2="336.1" stroke="#0000ff" stroke-width="1.5"/>
<polygon fill="#ff0000" points="327.23,352.45 327.28,353.35 327.33,354.26 327.38,355.16 327.41,356.06 327.49,356.96 327.54,357.86 327.55,358.77 327.57,359.58 327.66,360.38 327.77,361.18 327.78,361.99 327.88,362.78 327.96,363.58 327.95,364.39 327.99,365.21 328.08,366.03 328.17,366.83 328.13,367.65 328.24,368.45 328.44,369.23 328.53,370.03 328.48,370.85 328.54,371.67 328.59,372.59 328.99,373.45 328.79,374.4 328.85,375.31 329.28,376.17 329.11,377.11 329.49,378.01 329.25,378.93 329.75,379.66 329.89,380.46 329.66,381.34 329.9,382.13 330.23,382.89 330.39,383.69 330.56,384.63 330.83,385.54 330.63,386.49 331.31,387.09 331.64,387.82 331.47,388.76 332.38,389.55 333.02,390.42 333.27,391.28 334.08,391.67 334.89,392.34 335.81,393.04 336.61,393.6 337.27,394.35 338.36,394.76 339.37,394.94 340.02,395.51 340.9,395.51 341.6,395.97 342.52,396.07 343.32,396.52 344.14,396.53 344.96,396.58 345.73,396.83 346.56,397.03 347.52,397.3 348.5,397.34 349.46,397.47 350.43,397.78 351.33,397.87 352.17,398.03 353.04,397.85 353.87,398.04 354.73,398.04 355.56,398.22 356.41,398.24 357.24,398.47 358.11,398.47 358.94,398.37 359.75,398.38 360.54,398.59 361.35,398.46 362.14,398.62 362.94,398.62 363.75,398.6 364.54,398.8 365.34,398.84 366.14,398.89 366.94,398.83 367.74,398.99 368.54,398.92 369.34,399.06 370.14,399.05 370.96,399.08 371.79,398.99 372.59,399.19 373.4,399.15 374.21,399.16 375.02,399.12 375.83,399.06 376.64,399.06 377.45,399.16 378.26,399.22 379.07,399.22 379.88,399.16 380.68,399.19 381.48,399.19 382.29,399.33 383.09,399.27 383.9,399.27 384.7,399.26 385.5,399.39 386.31,399.42 387.11,399.38 387.92,399.32 388.72,399.46 389.52,399.46 390.33,399.4 391.13,399.45 391.94,399.43 392.74,399.51 393.54,399.48 394.35,399.6 395.15,399.48 395.95,399.62 396.76,399.61 397.56,399.57 398.37,399.54 399.17,399.63 399.98,399.7 400.82,399.61 401.65,399.69 402.49,399.69 403.32,399.73 404.15,399.72 404.99,399.7 405.82,399.64 406.65,399.75 407.49,399.69 408.32,399.76 409.15,399.75 409.99,399.73 410.82,399.81 411.65,399.82 412.49,399.73 413.32,399.8 414.15,399.77 414.99,399.84 415.79,399.86 416.6,399.84 417.4,399.86 418.21,399.86 419.02,399.83 419.82,399.93 420.63,399.89 421.44,399.88 422.24,399.95 423.05,399.88 423.86,399.94 424.66,399.95 425.47,400 426.28,400.01 427.08,399.97 427.89,399.96 428.7,400.02 429.5,400.07 430.31,400.09 431.11,400.11 431.92,400.03 432.73,400.06 433.53,400.11 434.34,400.15 435.15,400.1 435.95,400.17 436.76,400.11 437.57,400.21 438.37,400.18 439.18,400.19 439.99,400.21 440.79,400.26 441.61,400.21 442.42,400.24 443.23,400.27 444.04,400.27 444.85,400.33 445.66,400.26 446.47,400.26 447.28,400.35 448.09,400.33 448.9,400.31 449.71,400.41 450.53,400.4 451.34,400.35 452.15,400.42 452.96,400.4 453.77,400.38 454.58,400.39 455.39,400.42 456.2,400.47 457.01,400.47 457.82,400.5 458.63,400.47 459.44,400.54 460.25,400.58 461.07,400.59 461.88,400.59 462.69,400.62 463.5,400.57 464.31,400.57 465.12,400.66 465.93,400.6 466.74,400.61 467.55,400.69 468.36,400.7 469.17,400.67 469.99,400.64 470.84,400.73 471.69,400.77 472.53,400.73 473.38,400.74 474.23,400.71 475.07,400.71 475.92,400.78 476.77,400.79 477.61,400.75 478.46,400.85 479.31,400.87 480.15,400.76 481,400.83 481.85,400.82 482.67,400.85 483.44,400.92 484.24,401 485.04,400.97 485.84,401.12 486.64,401.08 487.44,401.19 488.23,401.32 489.01,401.34 489.79,401.43 490.59,401.52 491.37,401.71 492.19,401.66 492.98,401.86 493.77,401.98 494.57,402.11 495.29,402.15 495.99,402.37 496.77,402.59 497.58,402.7 498.39,402.82 499.13,403.23 499.94,403.32 500.69,403.68 501.4,403.88 502.18,404.17 502.95,404.7 503.83,404.94 504.62,405.41 505.52,405.62 506.37,405.79 507.12,406.06 507.82,406.61 508.61,406.95 509.3,407.5 509.91,408.12 510.59,408.58 511.38,408.93 512.29,409.06 513.96,405.85 513.05,405.72 512.44,405.03 511.58,404.7 510.73,404.4 510.03,403.88 509.04,403.96 508.27,403.59 507.46,403.15 506.6,402.7 505.63,402.72 504.88,402.14 504,401.9 503.1,401.71 502.19,401.35 501.31,401.23 500.57,400.85 499.75,400.77 498.94,400.68 498.15,400.46 497.33,400.39 496.56,400.12 495.71,399.83 494.83,399.72 494.02,399.76 493.22,399.6 492.43,399.5 491.62,399.46 490.81,399.44 490.01,399.39 489.19,399.23 488.37,399.2 487.56,399.29 486.76,399.22 485.96,399.14 485.16,399.09 484.36,398.98 483.56,399.07 482.73,398.96 481.86,398.95 481.01,398.9 480.17,398.87 479.32,398.99 478.47,398.86 477.63,398.97 476.78,398.98 475.93,398.92 475.09,398.98 474.24,398.97 473.39,398.89 472.55,398.88 471.7,398.96 470.85,398.86 470.01,398.94 469.2,398.87 468.39,398.92 467.58,398.87 466.77,398.9 465.96,398.81 465.15,398.87 464.34,398.75 463.53,398.75 462.72,398.8 461.91,398.73 461.1,398.79 460.29,398.73 459.47,398.72 458.66,398.7 457.85,398.74 457.04,398.7 456.23,398.68 455.42,398.7 454.61,398.65 453.8,398.61 452.99,398.61 452.18,398.63 451.37,398.63 450.55,398.64 449.74,398.61 448.93,398.54 448.12,398.56 447.31,398.48 446.5,398.52 445.69,398.5 444.88,398.44 444.07,398.48 443.26,398.51 442.45,398.45 441.64,398.4 440.83,398.42 440.01,398.46 439.21,398.39 438.4,398.41 437.6,398.36 436.79,398.31 435.98,398.29 435.18,398.34 434.37,398.31 433.56,398.3 432.76,398.26 431.95,398.27 431.14,398.31 430.34,398.25 429.53,398.21 428.72,398.2 427.92,398.25 427.11,398.16 426.3,398.22 425.5,398.22 424.69,398.21 423.89,398.11 423.08,398.14 422.27,398.14 421.47,398.06 420.66,398.06 419.85,398.03 419.05,398.02 418.24,398.03 417.43,398.01 416.63,398.06 415.82,398.02 415.01,397.97 414.18,397.98 413.35,397.93 412.51,397.97 411.68,397.92 410.84,397.99 410.01,397.88 409.18,397.87 408.35,397.89 407.51,397.9 406.68,397.91 405.85,397.85 405.01,397.88 404.18,397.86 403.35,397.74 402.51,397.77 401.68,397.78 400.85,397.83 400.02,397.79 399.22,397.8 398.41,397.76 397.61,397.64 396.81,397.65 396,397.71 395.2,397.69 394.4,397.6 393.59,397.52 392.79,397.55 391.98,397.54 391.18,397.54 390.37,397.54 389.57,397.38 388.77,397.38 387.96,397.42 387.16,397.42 386.36,397.39 385.55,397.28 384.75,397.34 383.95,397.27 383.14,397.21 382.34,397.23 381.53,397.3 380.73,397.18 379.92,397.28 379.12,397.09 378.3,397.15 377.49,397.17 376.69,397.08 375.88,397.03 375.07,396.98 374.26,397.01 373.45,397.03 372.64,396.9 371.83,396.93 371.04,396.91 370.26,396.92 369.46,396.83 368.66,396.73 367.86,396.66 367.06,396.66 366.26,396.56 365.46,396.56 364.66,396.47 363.86,396.5 363.07,396.35 362.26,396.36 361.46,396.34 360.67,396.21 359.87,396.17 359.05,396.34 358.28,396.16 357.46,396.06 356.62,395.92 355.76,396.03 354.92,395.88 354.07,395.88 353.23,395.74 352.39,395.68 351.55,395.57 350.78,395.34 349.85,395.33 348.93,395 347.96,394.94 347.08,394.59 346.35,394.42 345.6,394.11 344.75,394.18 344.02,393.78 343.37,393.46 342.71,393.15 341.85,393.11 341.2,392.52 340.34,392.48 339.91,391.92 339.19,391.55 338.42,390.96 337.71,390.28 337.12,389.82 336.56,389.58 336.19,388.82 335.66,388.2 335.8,387.5 335.38,387.2 334.88,386.53 334.86,385.67 334.47,384.95 333.81,384.35 333.62,383.72 333.58,383.05 333.42,382.24 333.06,381.49 332.72,380.72 332.47,379.94 332.36,379.13 332.39,378.29 332.01,377.58 331.83,376.72 331.81,375.8 331.57,374.92 331.43,374.02 331.19,373.14 331.23,372.21 330.93,371.35 330.82,370.56 330.61,369.77 330.54,368.97 330.53,368.16 330.47,367.35 330.2,366.58 330.15,365.77 330.03,364.99 329.97,364.2 329.81,363.41 329.68,362.62 329.56,361.82 329.47,361.02 329.44,360.22 329.38,359.42 329.2,358.63 329.16,357.73 329.04,356.84 328.96,355.94 328.86,355.04 328.76,354.14 328.67,353.24 328.57,352.35"/>
<circle cx="513.1" cy="407.2" r="1.9" fill="#ff0000"/>
<rect x="511" y="264" width="4.2" height="143.4" fill="#ff0000"/>
<rect x="319.5" y="255.9" width="207" height="160.4" fill="none" stroke="#8c8c8c" stroke-width="0.6"/>
<path d="M329.36 416.3v-2M329.36 255.9v2" stroke="#8c8c8c" stroke-width="0.6"/>
<path d="M378.64 416.3v-2M378.64 255.9v2" stroke="#8c8c8c" stroke-width="0.6"/>
<path d="M427.93 416.3v-2M427.93 255.9v2" stroke="#8c8c8c" stroke-width="0.6"/>
<path d="M477.21 416.3v-2M477.21 255.9v2" stroke="#8c8c8c" stroke-width="0.6"/>
<path d="M526.5 416.3v-2M526.5 255.9v2" stroke="#8c8c8c" stroke-width="0.6"/>
<path d="M319.5 255.9h2M526.5 255.9h-2" stroke="#8c8c8c" stroke-width="0.6"/>
<path d="M319.5 275.95h2M526.5 275.95h-2" stroke="#8c8c8c" stroke-width="0.6"/>
<path d="M319.5 296h2M526.5 296h-2" stroke="#8c8c8c" stroke-width="0.6"/>
<path d="M319.5 316.05h2M526.5 316.05h-2" stroke="#8c8c8c" stroke-width="0.6"/>
<path d="M319.5 336.1h2M526.5 336.1h-2" stroke="#8c8c8c" stroke-width="0.6"/>
<path d="M319.5 356.15h2M526.5 356.15h-2" stroke="#8c8c8c" stroke-width="0.6"/>
<path d="M319.5 376.2h2M526.5 376.2h-2" stroke="#8c8c8c" stroke-width="0.6"/>
<path d="M319.5 396.25h2M526.5 396.25h-2" stroke="#8c8c8c" stroke-width="0.6"/>
<path d="M319.5 416.3h2M526.5 416.3h-2" stroke="#8c8c8c" stroke-width="0.6"/>
<rect x="477.2" y="261.1" width="43.6" height="23.2" fill="#fff" stroke="#6e6e6e" stroke-width="0.6"/>
<line x1="479.4" y1="267.25" x2="498.2" y2="267.25" stroke="#0000ff" stroke-width="1.3"/>
<line x1="479.4" y1="278.24" x2="498.2" y2="278.24" stroke="#ff0000" stroke-width="1.3"/>
<text transform="translate(499.9 270.75) scale(0.96 1)" text-anchor="start" class="g">CH-1</text>
<text transform="translate(499.9 281.34) scale(0.96 1)" text-anchor="start" class="g">CH-2</text>
<text transform="translate(329.36 427.7) scale(1.0 1)" text-anchor="middle" class="t">-1000</text>
<text transform="translate(378.64 427.7) scale(1.0 1)" text-anchor="middle" class="t">-500</text>
<text transform="translate(427.93 427.7) scale(1.0 1)" text-anchor="middle" class="t">0</text>
<text transform="translate(477.21 427.7) scale(1.0 1)" text-anchor="middle" class="t">500</text>
<text transform="translate(526.5 427.7) scale(1.0 1)" text-anchor="middle" class="t">1000</text>
<text transform="translate(316.8 258.9) scale(1.0 1)" text-anchor="end" class="t">200</text>
<text transform="translate(316.8 278.95) scale(1.0 1)" text-anchor="end" class="t">150</text>
<text transform="translate(316.8 299) scale(1.0 1)" text-anchor="end" class="t">100</text>
<text transform="translate(316.8 319.05) scale(1.0 1)" text-anchor="end" class="t">50</text>
<text transform="translate(316.8 339.1) scale(1.0 1)" text-anchor="end" class="t">0</text>
<text transform="translate(316.8 359.15) scale(1.0 1)" text-anchor="end" class="t">-50</text>
<text transform="translate(316.8 379.2) scale(1.0 1)" text-anchor="end" class="t">-100</text>
<text transform="translate(316.8 399.25) scale(1.0 1)" text-anchor="end" class="t">-150</text>
<text transform="translate(316.8 419.3) scale(1.0 1)" text-anchor="end" class="t">-200</text>
<text transform="translate(423 438.7) scale(1.055 1)" text-anchor="middle" class="l">Doppler frequeny (Hz)</text>
<text transform="translate(296.5 336.4) rotate(-90) scale(1.055 1)" text-anchor="middle" class="l">Phase errors (Deg)</text>
<text x="418.2" y="457" text-anchor="middle" class="c">(<tspan font-weight="bold">d</tspan>)</text>
</svg>
</body></html>
